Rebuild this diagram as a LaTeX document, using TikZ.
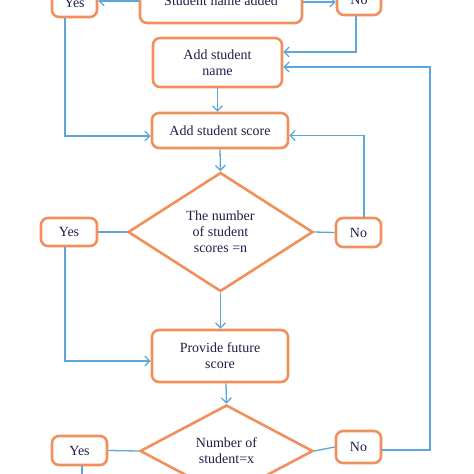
\documentclass[tikz,border=0pt]{standalone}
\usepackage{fontspec}
\setmainfont{Liberation Serif}
\usetikzlibrary{shapes.geometric,arrows.meta}
\definecolor{boxor}{HTML}{F0905A}
\definecolor{lnblue}{HTML}{5BA7DD}
\definecolor{txt}{HTML}{1F1F4A}
\begin{document}
\begin{tikzpicture}[x=1pt,y=-1pt,
  font=\fontsize{14}{16}\selectfont,
  box/.style={draw=boxor,line width=2.6pt,rounded corners=7pt,fill=white,text=txt,align=center,inner sep=0pt},
  dia/.style={draw=boxor,line width=2.6pt,diamond,fill=white,text=txt,align=center,inner sep=0pt},
  ln/.style={draw=lnblue,line width=1.3pt},
  arr/.style={ln,-{Straight Barb[length=5pt,width=10pt,line width=1.3pt]}}]
\useasboundingbox (0,0) rectangle (474,474);
\clip (0,0) rectangle (474,474);
\fill[white] (0,0) rectangle (474,474);
\node[box,minimum width=162pt,minimum height=50pt] (top) at (221,-2) {\raisebox{-7pt}[0pt][0pt]{Student name added}};
\node[box,minimum width=45pt,minimum height=30pt] (yes1) at (74.5,2) {\raisebox{-5pt}[0pt][0pt]{Yes}};
\node[box,minimum width=44pt,minimum height=30pt] (no1) at (359,0) {\raisebox{-4pt}[0pt][0pt]{No}};
\node[box,minimum width=129pt,minimum height=49pt] (name) at (217.5,62.5) {Add student\\name};
\node[box,minimum width=136pt,minimum height=35pt] (score) at (220,130.5) {Add student score};
\node[dia,minimum width=185pt,minimum height=119pt,aspect=1.55] (d1) at (220.5,232) {The number\\of student\\scores =n};
\node[box,minimum width=56pt,minimum height=28pt] (yes2) at (69,232) {Yes};
\node[box,minimum width=45pt,minimum height=29pt] (no2) at (358.5,232.5) {No};
\node[box,minimum width=136pt,minimum height=52pt] (prov) at (220,356) {Provide future\\score};
\node[dia,minimum width=173pt,minimum height=92pt,aspect=1.88] (d2) at (226.5,451) {Number of\\student=x};
\node[box,minimum width=55pt,minimum height=29pt] (yes3) at (79.5,450.5) {Yes};
\node[box,minimum width=45pt,minimum height=32pt] (no3) at (358.5,447) {No};
% connectors
\draw[arr] ([yshift=-3pt]top.west) -- ([yshift=-3pt]yes1.east |- top.west);
\draw[arr] ([yshift=-4pt]top.east) -- ([yshift=-4pt]no1.west |- top.east);
\draw[arr] ([xshift=-9.5pt]yes1.south) |- ([yshift=-5.5pt]score.west);
\draw[arr] ([xshift=-3pt]no1.south) |- ([yshift=10.5pt]name.east);
\draw[arr] (name.south) -- (name.south |- score.north);
\draw[arr] (score.south) -- (d1.north);
\draw[ln] (d1.west) -- (yes2.east);
\draw[ln] (d1.east) -- (no2.west);
\draw[arr] ([xshift=5.5pt]no2.north) |- ([yshift=-5pt]score.east);
\draw[arr] ([xshift=-4pt]yes2.south) |- ([yshift=-5pt]prov.west);
\draw[arr] (d1.south) -- (d1.south |- prov.north);
\draw[arr] ([xshift=6pt]prov.south) -- (d2.north);
\draw[ln] (d2.west) -- (yes3.east);
\draw[ln] (d2.east) -- (no3.west);
\draw[ln] ([xshift=2.5pt]yes3.south) -- ++(0,20);
\coordinate (rt) at (430,450);
\draw[arr] ([yshift=-3pt]no3.east) -- (rt) |- ([yshift=-4.5pt]name.east);
\end{tikzpicture}
\end{document}
